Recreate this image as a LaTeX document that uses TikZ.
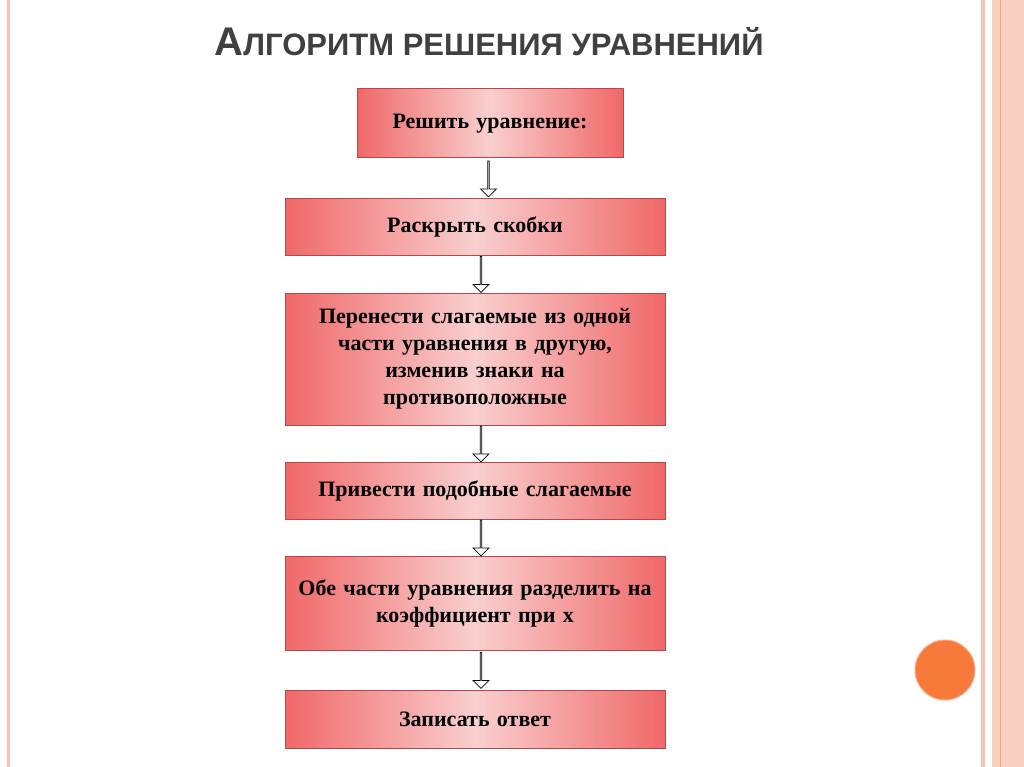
\documentclass[tikz,border=0pt]{standalone}
\usepackage{fontspec}
\setmainfont{Liberation Serif}
\newfontfamily\titlefont{Liberation Sans}
\usetikzlibrary{shapes.arrows, positioning, calc}
\definecolor{boxedge}{HTML}{F06868}
\definecolor{boxmid}{HTML}{F9CFCF}
\definecolor{boxline}{HTML}{B84848}
\definecolor{stripe}{HTML}{F6C3B0}
\definecolor{ball}{HTML}{F77A3A}
\tikzset{
  stepbox/.style = {draw=boxline, line width=1pt, left color=boxedge, right color=boxedge, middle color=boxmid,
    align=center, font=\fontsize{22}{27}\selectfont\bfseries, text width=370pt, inner sep=0pt},
  hollow/.style = {single arrow, draw=black, fill=white, line width=0.7pt, rotate=-90,
    minimum width=16pt, single arrow head extend=3pt, minimum height=36pt, inner sep=0pt}
}
\begin{document}
\begin{tikzpicture}[x=1pt,y=-1pt]
  \useasboundingbox (0,0) rectangle (1024,767);
  % page border and stripes
  \fill[stripe] (7,0) rectangle (10,767);
  \fill[stripe] (981,0) rectangle (985,767);
  \fill[stripe!80] (992,0) rectangle (1024,767);
  \draw[stripe!60!orange, line width=0.8pt] (1000,0) -- (1000,767);
  \node (title) at (489,42) {\titlefont\bfseries\color{black!75}\fontsize{40}{40}\selectfont А\fontsize{31}{31}\selectfont ЛГОРИТМ РЕШЕНИЯ УРАВНЕНИЙ};
  % steps
  \node[stepbox, text width=266pt, minimum height=69pt] (s1) at (490,123.5) {Решить уравнение:};
  \node[stepbox, minimum width=380pt, minimum height=56pt] (s2) at (475,227) {Раскрыть скобки};
  \node[stepbox, minimum width=380pt, minimum height=132pt] (s3) at (475,359) {Перенести слагаемые из одной\\ части уравнения в другую,\\ изменив знаки на\\ противоположные};
  \node[stepbox, minimum width=380pt, minimum height=57pt] (s4) at (475,490.5) {Привести подобные слагаемые};
  \node[stepbox, minimum width=380pt, minimum height=94pt] (s5) at (475,603) {Обе части уравнения разделить на\\ коэффициент при х};
  \node[stepbox, minimum width=380pt, minimum height=58pt] (s6) at (475,719) {Записать ответ};
  % arrows between steps
  \foreach \a/\b in {s1/s2, s2/s3, s3/s4, s4/s5, s5/s6}
    \node[hollow] (\a-\b) at ($(\a.south)!0.5!(\b.north)+(6,0)$) {};
  \node[circle, fill=ball, draw=ball!60, line width=1pt, minimum size=60pt] (dot) at (945,670) {};
\end{tikzpicture}
\end{document}
